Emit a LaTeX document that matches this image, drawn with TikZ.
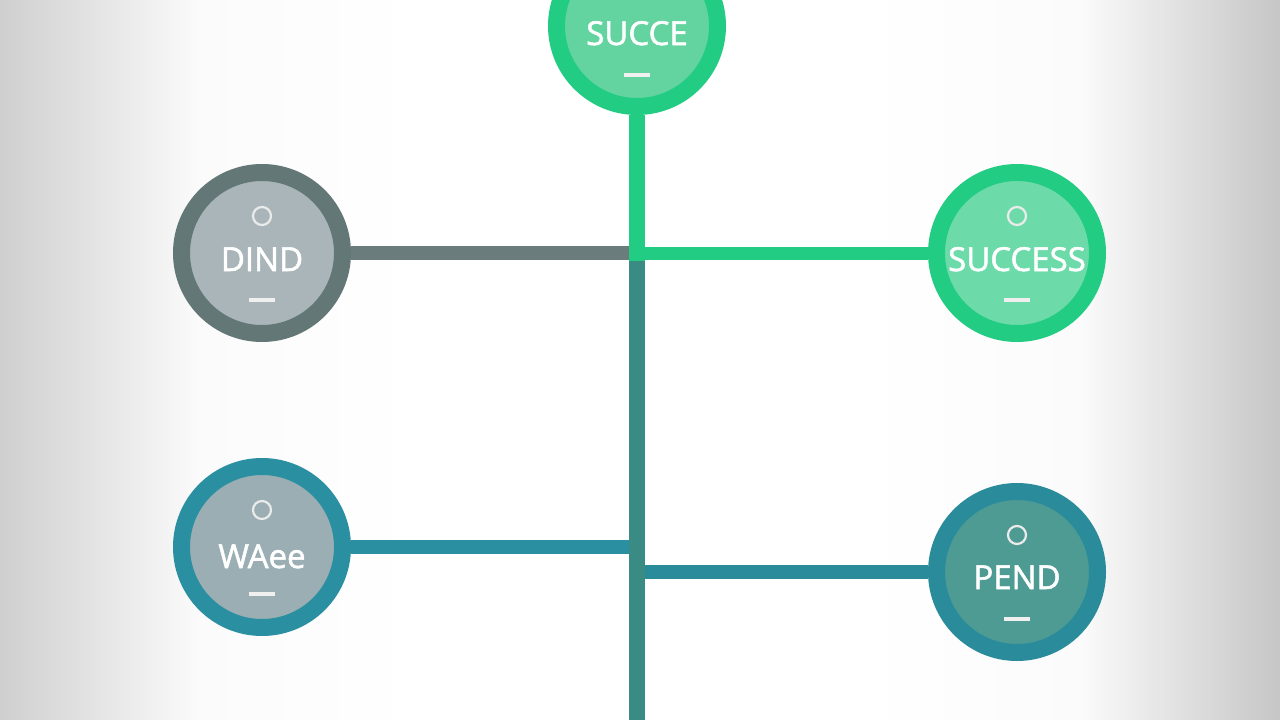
\documentclass[tikz,border=0pt]{standalone}
\usepackage{fontspec}
\setmainfont{Open Sans}
\newfontfamily\labelfont{Open Sans}[FakeBold=1.6]
\definecolor{grnring}{HTML}{22CC82}
\definecolor{grnfill}{HTML}{6DDBA9}
\definecolor{topfill}{HTML}{63D49F}
\definecolor{grayring}{HTML}{637777}
\definecolor{grayfill}{HTML}{A9B5B8}
\definecolor{tealring}{HTML}{2B8FA2}
\definecolor{tealfill}{HTML}{9AAEB3}
\definecolor{pendring}{HTML}{2A8B9B}
\definecolor{pendfill}{HTML}{4E9B93}
\definecolor{trunk}{HTML}{3A8B83}
\definecolor{grayline}{HTML}{6A7C7C}
\definecolor{edgel}{HTML}{CFCFCF}
\definecolor{edger}{HTML}{C6C6C6}
\definecolor{nearwhite}{HTML}{FBFBFB}
\tikzset{
  statenode/.style={circle, line width=17pt, minimum size=161pt, inner sep=0pt},
  labeltext/.style={text=white, inner sep=0pt, anchor=base, font=\labelfont\fontsize{33}{33}\selectfont},
  iconring/.style={draw=white!92!black, line width=2.2pt},
  dashmark/.style={fill=white!94!black},
  conn/.style={line width=14pt},
}
\newcommand{\deco}[2][1]{%
  \ifnum#1=1 \draw[iconring] ([yshift=37pt]#2.center) circle (9pt);\fi
  \fill[dashmark] ([xshift=-13pt,yshift=-45pt]#2.center) rectangle ([xshift=13pt,yshift=-49pt]#2.center);
}
\begin{document}
\begin{tikzpicture}[x=1pt,y=-1pt]
\useasboundingbox (0,0) rectangle (1280,720);
\fill[white] (0,0) rectangle (1280,720);
\shade[left color=edgel, right color=nearwhite] (0,0) rectangle (200,720);
\shade[left color=nearwhite, right color=white] (199.5,0) rectangle (420,720);
\shade[left color=white, right color=nearwhite] (860,0) rectangle (1080.5,720);
\shade[left color=nearwhite, right color=edger] (1080,0) rectangle (1280,720);
% nodes
\node[statenode, draw=grnring, fill=topfill] (top) at (637,26) {};
\node[statenode, draw=grayring, fill=grayfill] (lt) at (262,253) {};
\node[statenode, draw=grnring, fill=grnfill] (rt) at (1017,253) {};
\node[statenode, draw=tealring, fill=tealfill] (lb) at (262,547) {};
\node[statenode, draw=pendring, fill=pendfill] (rb) at (1017,572) {};
\node[labeltext] (toplabel) at (637,45) {SUCCE};
\node[labeltext] (ltlabel) at (262,271) {DIND};
\node[labeltext] (rtlabel) at (1017,271) {SUCCESS};
\node[labeltext] (lblabel) at (262,568) {WAee};
\node[labeltext] (rblabel) at (1017,589) {PEND};
\coordinate (j1) at (637,253);
\coordinate (j1b) at (637,261);
\coordinate (jl) at (637,547);
\coordinate (jr) at (637,572);
\coordinate (bot) at (637,720);
% connectors
\draw[conn, grayline] (lt.east) -- (j1);
\draw[conn, line width=13pt, grnring] (j1) -- (rt.west);
\draw[conn, tealring] (lb.east) -- (jl);
\draw[conn, pendring] (jr) -- (rb.west);
\draw[line width=16pt, trunk] (j1b) -- (bot);
\draw[line width=16pt, grnring] (top.south) -- (j1b);
% decorations
\fill[dashmark] ([xshift=-13pt,yshift=-47pt]top.center) rectangle ([xshift=13pt,yshift=-51pt]top.center);
\deco{lt}
\deco{rt}
\deco{lb}
\deco{rb}
\end{tikzpicture}
\end{document}
